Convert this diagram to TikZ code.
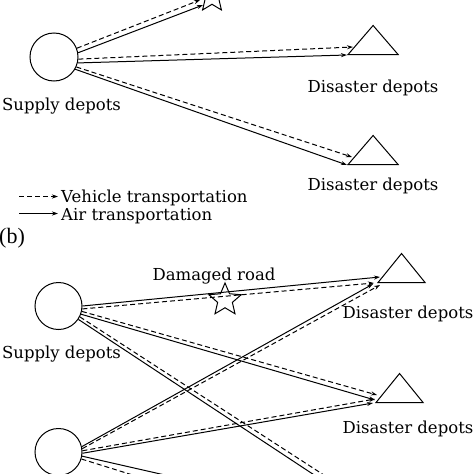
\documentclass[tikz,border=0pt]{standalone}
\usepackage{fontspec}
\setmainfont{DejaVu Serif}
\newfontfamily\capfont{Liberation Serif}
\usetikzlibrary{arrows.meta,shapes.geometric,calc}

\begin{document}
\begin{tikzpicture}[x=1pt,y=-1pt,font=\fontsize{16.5}{18}\selectfont,
  depot/.style={circle,draw,line width=1pt,minimum size=48pt,inner sep=0pt},
  target/.style={isosceles triangle,isosceles triangle stretches,shape border rotate=90,draw,line width=1pt,minimum width=50pt,minimum height=29pt,inner sep=0pt,anchor=left corner},
  damage/.style={star,star points=5,star point ratio=2.2,draw,line width=1pt,minimum size=32pt,inner sep=0pt},
  air/.style={line width=1pt,-{Stealth[length=6pt,width=4pt]}},
  veh/.style={air,dash pattern=on 5pt off 3pt},
  lbl/.style={inner sep=0pt,anchor=base}]
\clip (0,0) rectangle (474,474);
% (a)
\node[depot] (sa) at (54,57) {};
\node[lbl] (sal) at (61.5,110) {Supply depots};
\node[damage] (sa0) at (212,-3) {};
\node[target] (da1) at (347,55) {};
\node[target] (da2) at (347,165) {};
\node[lbl] (da1l) at (373,92) {Disaster depots};
\node[lbl] (da2l) at (373,190) {Disaster depots};
\draw[veh] (sa.21) -- ($(sa0.center)+(-12,3)$);
\draw[air] (sa.10) -- ($(sa0.center)+(-9,8)$);
\draw[veh] (sa.-5) -- ($(da1.left corner)+(6,-8)$);
\draw[air] (sa.-14) -- (da1.left corner);
\draw[veh] (sa.-24) -- ($(da2.left corner)+(5,-8)$);
\draw[air] (sa.-30) -- (da2.left corner);
\coordinate (lv0) at (19,196.5);
\coordinate (la0) at (19,213.5);
\node[inner sep=0pt,anchor=west] (lv) at (61,196.5) {\phantom{V}};
\node[lbl,anchor=base west] (lvt) at (61,202) {Vehicle transportation};
\node[lbl,anchor=base west] (lat) at (61,220) {Air transportation};
\draw[veh] (lv0) -- ([xshift=-3pt]lv.west);
\draw[air] (la0) -- ([xshift=-3pt]lv.west |- la0);
% (b)
\node[inner sep=0pt,anchor=base west] (capb) at (-1,243) {\capfont\fontsize{22}{24}\selectfont(b)};
\node[depot,minimum size=47pt] (sb1) at (58.5,306) {};
\node[depot,minimum size=47pt] (sb2) at (58.5,452) {};
\node[lbl] (sb1l) at (61.5,358) {Supply depots};
\node[damage,minimum size=34pt] (sb0) at (225,300) {};
\node[lbl] (sb0l) at (214,280) {Damaged road};
\node[target,minimum width=47pt] (db1) at (377,283) {};
\node[target,minimum width=47pt] (db2) at (375,403) {};
\node[lbl] (db1l) at (408,318) {Disaster depots};
\node[lbl] (db2l) at (408,433) {Disaster depots};
\coordinate (sbo1) at (337,490);
\coordinate (sbo2) at (347,490);
\coordinate (sbo3) at (200,483);
\coordinate (sbo4) at (200,496);
\draw[air] (sb1.0) -- ($(db1.left corner)+(3,-6)$);
\draw[veh] (sb1.-7) -- ($(db1.left corner)+(-3,0)$);
\draw[veh] (sb1.-13) -- ($(db2.left corner)+(2,-8)$);
\draw[air] (sb1.-20) -- ($(db2.left corner)+(0,-3)$);
\draw[veh] (sb1.-27) -- (sbo2);
\draw[air] (sb1.-34) -- (sbo1);
\draw[air] (sb2.13) -- ($(db1.left corner)+(-4,1)$);
\draw[veh] (sb2.8) -- ($(db1.left corner)+(3,2)$);
\draw[veh] (sb2.3) -- ($(db2.left corner)+(0,-4)$);
\draw[air] (sb2.-3) -- ($(db2.left corner)+(-2,0)$);
\draw[air] (sb2.-10) -- (sbo3);
\draw[veh] (sb2.-17) -- (sbo4);
\end{tikzpicture}
\end{document}
